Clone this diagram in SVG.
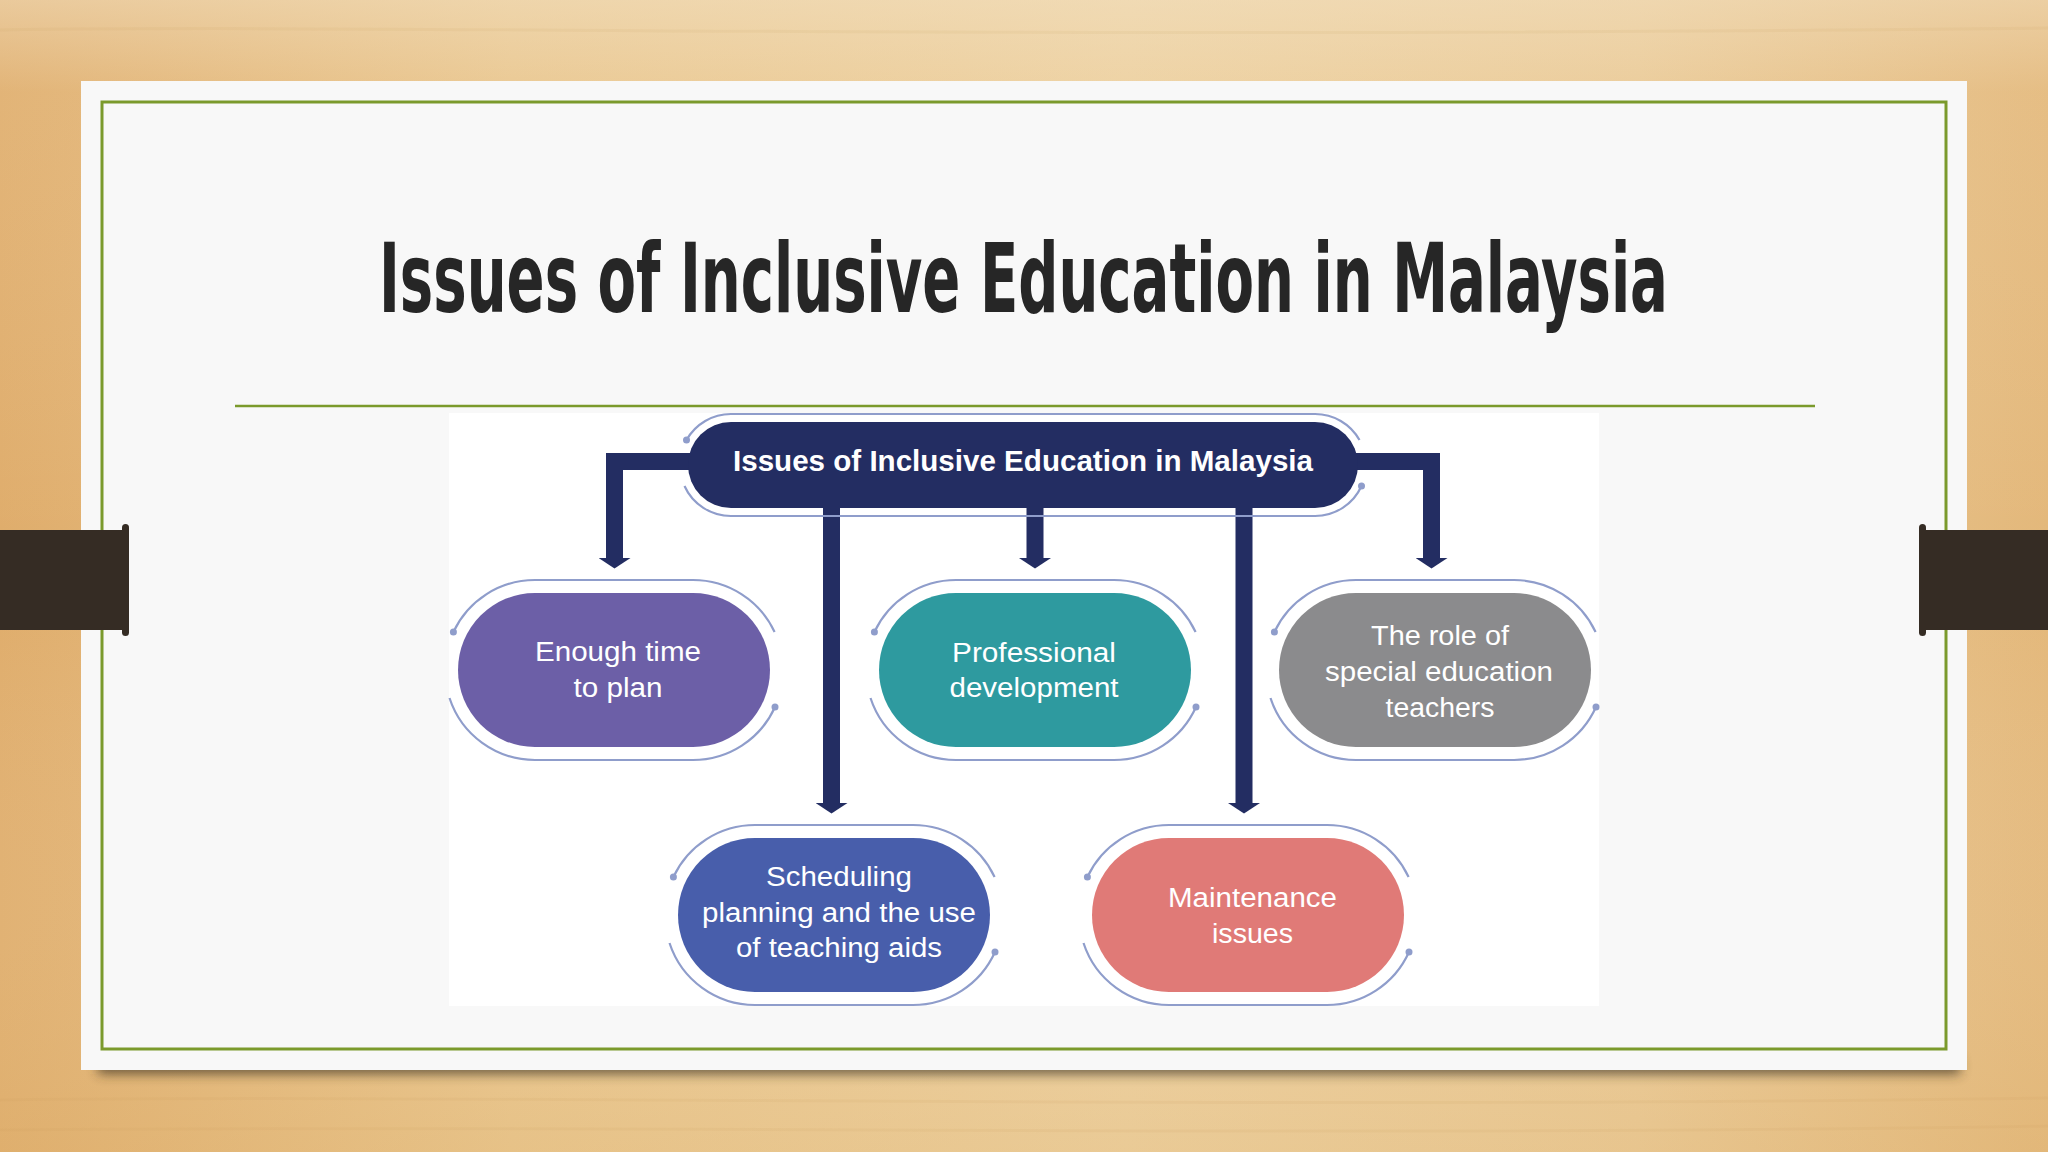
<svg xmlns="http://www.w3.org/2000/svg" width="2048" height="1152" viewBox="0 0 2048 1152">
  <defs>
    <linearGradient id="woodH" x1="0" y1="0" x2="1" y2="0">
      <stop offset="0" stop-color="#dfac6a"/>
      <stop offset="0.25" stop-color="#e9c58c"/>
      <stop offset="0.55" stop-color="#edd09f"/>
      <stop offset="0.8" stop-color="#eac995"/>
      <stop offset="1" stop-color="#e3b779"/>
    </linearGradient>
    <linearGradient id="woodV" x1="0" y1="0" x2="0" y2="1">
      <stop offset="0" stop-color="#f3e2c4" stop-opacity="0.55"/>
      <stop offset="0.08" stop-color="#f3e2c4" stop-opacity="0.15"/>
      <stop offset="0.5" stop-color="#ffffff" stop-opacity="0"/>
      <stop offset="1" stop-color="#e0b878" stop-opacity="0.25"/>
    </linearGradient>
    <filter id="blur" x="-10%" y="-200%" width="120%" height="500%">
      <feGaussianBlur stdDeviation="6"/>
    </filter>
    <marker id="ah" markerUnits="userSpaceOnUse" markerWidth="11" markerHeight="32" viewBox="0 -16 11 32" refX="0" refY="0" orient="auto">
      <path d="M0,-16 L10.5,0 L0,16 Z" fill="#232d62"/>
    </marker>
    <style>
      .conn { fill: none; stroke: #232d62; stroke-width: 17; stroke-linejoin: miter; stroke-linecap: butt; }
      .ring { fill: none; stroke: #8f9dcb; stroke-width: 2.2; }
      .dot { fill: #8f9dcb; }
      .lbl { font-family: "Liberation Sans", Arial, sans-serif; font-size: 27px; fill: #ffffff; text-anchor: middle; }
      .band { fill: #352c24; }
    </style>
  </defs>

  <!-- wood background -->
  <rect x="0" y="0" width="2048" height="1152" fill="url(#woodH)"/>
  <rect x="0" y="0" width="2048" height="1152" fill="url(#woodV)"/>
  <g opacity="0.1" fill="none" stroke="#c99a5a" stroke-width="3">
    <path d="M0 30 C 400 24, 900 40, 2048 28"/>
    <path d="M0 1100 C 500 1094, 1200 1110, 2048 1098"/>
    <path d="M0 1130 C 600 1124, 1300 1138, 2048 1126"/>
  </g>

  <!-- slide -->
  <rect x="98" y="1058" width="1862" height="16" fill="#3a3320" opacity="0.7" filter="url(#blur)"/>
  <rect x="81" y="81" width="1886" height="989" fill="#f8f8f8"/>
  <rect x="102" y="102" width="1844" height="947" fill="none" stroke="#7b9a2c" stroke-width="3"/>

  <!-- side bands -->
  <rect class="band" x="0" y="530" width="128" height="100"/>
  <rect class="band" x="122" y="524" width="7" height="112" rx="3.5"/>
  <rect class="band" x="1920" y="530" width="128" height="100"/>
  <rect class="band" x="1919" y="524" width="7" height="112" rx="3.5"/>

  <!-- title -->
  <text transform="translate(379 312) scale(0.64 1)" x="0" y="0" font-family="'DejaVu Sans Condensed', 'DejaVu Sans', sans-serif" font-weight="bold" font-size="97" fill="#262626" textLength="2014" lengthAdjust="spacingAndGlyphs">Issues of Inclusive Education in Malaysia</text>
  <line x1="235" y1="406" x2="1815" y2="406" stroke="#7b9a2c" stroke-width="2.5"/>

  <!-- diagram canvas -->
  <rect x="449" y="413" width="1150" height="593" fill="#ffffff"/>

  <!-- connectors -->
  <g id="connectors">
    <path class="conn" d="M700 461.5 H614.5 V558" marker-end="url(#ah)"/>
    <path class="conn" d="M1346 461.5 H1431.5 V558" marker-end="url(#ah)"/>
    <path class="conn" d="M1035 500 V558" marker-end="url(#ah)"/>
    <path class="conn" d="M831.5 500 V803" marker-end="url(#ah)"/>
    <path class="conn" d="M1244 500 V803" marker-end="url(#ah)"/>
  </g>

  <!-- root node -->
  <g id="node-root">
    <rect x="688" y="422" width="670" height="86" rx="43" fill="#232d62"/>
    <path class="ring" d="M686.5 440 A51 51 0 0 1 731 414 H1315 A51 51 0 0 1 1359.5 440"/>
    <path class="ring" d="M684.5 486 A51 51 0 0 0 731 516 H1315 A51 51 0 0 0 1361.5 486"/>
    <circle class="dot" cx="686.5" cy="440" r="3.5"/>
    <circle class="dot" cx="1361.5" cy="486" r="3.5"/>
    <text x="1023" y="471" font-family="'Liberation Sans', Arial, sans-serif" font-weight="bold" font-size="29" fill="#ffffff" text-anchor="middle" textLength="580" lengthAdjust="spacingAndGlyphs">Issues of Inclusive Education in Malaysia</text>
  </g>

  <!-- node 1 -->
  <g id="node-time">
    <rect x="458" y="593" width="312" height="154" rx="77" fill="#6c5fa7"/>
    <path class="ring" d="M453.4 632 A90 90 0 0 1 535 580 H693 A90 90 0 0 1 774.6 632"/>
    <path class="ring" d="M449.5 698 A90 90 0 0 0 535 760 H693 A90 90 0 0 0 775 707"/>
    <circle class="dot" cx="453.4" cy="632" r="3.5"/>
    <circle class="dot" cx="775" cy="707" r="3.5"/>
    <text class="lbl" x="618" y="661" textLength="166" lengthAdjust="spacingAndGlyphs">Enough time</text>
    <text class="lbl" x="618" y="697" textLength="89" lengthAdjust="spacingAndGlyphs">to plan</text>
  </g>

  <!-- node 2 -->
  <g id="node-prof">
    <rect x="879" y="593" width="312" height="154" rx="77" fill="#2e9a9f"/>
    <path class="ring" d="M874.4 632 A90 90 0 0 1 956 580 H1114 A90 90 0 0 1 1195.6 632"/>
    <path class="ring" d="M870.5 698 A90 90 0 0 0 956 760 H1114 A90 90 0 0 0 1196 707"/>
    <circle class="dot" cx="874.4" cy="632" r="3.5"/>
    <circle class="dot" cx="1196" cy="707" r="3.5"/>
    <text class="lbl" x="1034" y="662" textLength="164" lengthAdjust="spacingAndGlyphs">Professional</text>
    <text class="lbl" x="1034" y="697" textLength="169" lengthAdjust="spacingAndGlyphs">development</text>
  </g>

  <!-- node 3 -->
  <g id="node-role">
    <rect x="1279" y="593" width="312" height="154" rx="77" fill="#8b8b8d"/>
    <path class="ring" d="M1274.4 632 A90 90 0 0 1 1356 580 H1514 A90 90 0 0 1 1595.6 632"/>
    <path class="ring" d="M1270.5 698 A90 90 0 0 0 1356 760 H1514 A90 90 0 0 0 1596 707"/>
    <circle class="dot" cx="1274.4" cy="632" r="3.5"/>
    <circle class="dot" cx="1596" cy="707" r="3.5"/>
    <text class="lbl" x="1440" y="645" textLength="138" lengthAdjust="spacingAndGlyphs">The role of</text>
    <text class="lbl" x="1439" y="681" textLength="228" lengthAdjust="spacingAndGlyphs">special education</text>
    <text class="lbl" x="1440" y="717" textLength="109" lengthAdjust="spacingAndGlyphs">teachers</text>
  </g>

  <!-- node 4 -->
  <g id="node-sched">
    <rect x="678" y="838" width="312" height="154" rx="77" fill="#485eab"/>
    <path class="ring" d="M673.4 877 A90 90 0 0 1 755 825 H913 A90 90 0 0 1 994.6 877"/>
    <path class="ring" d="M669.5 943 A90 90 0 0 0 755 1005 H913 A90 90 0 0 0 995 952"/>
    <circle class="dot" cx="673.4" cy="877" r="3.5"/>
    <circle class="dot" cx="995" cy="952" r="3.5"/>
    <text class="lbl" x="839" y="886" textLength="146" lengthAdjust="spacingAndGlyphs">Scheduling</text>
    <text class="lbl" x="839" y="922" textLength="274" lengthAdjust="spacingAndGlyphs">planning and the use</text>
    <text class="lbl" x="839" y="957" textLength="206" lengthAdjust="spacingAndGlyphs">of teaching aids</text>
  </g>

  <!-- node 5 -->
  <g id="node-maint">
    <rect x="1092" y="838" width="312" height="154" rx="77" fill="#e07a77"/>
    <path class="ring" d="M1087.4 877 A90 90 0 0 1 1169 825 H1327 A90 90 0 0 1 1408.6 877"/>
    <path class="ring" d="M1083.5 943 A90 90 0 0 0 1169 1005 H1327 A90 90 0 0 0 1409 952"/>
    <circle class="dot" cx="1087.4" cy="877" r="3.5"/>
    <circle class="dot" cx="1409" cy="952" r="3.5"/>
    <text class="lbl" x="1252.5" y="907" textLength="169" lengthAdjust="spacingAndGlyphs">Maintenance</text>
    <text class="lbl" x="1252.5" y="943" textLength="81" lengthAdjust="spacingAndGlyphs">issues</text>
  </g>
</svg>
